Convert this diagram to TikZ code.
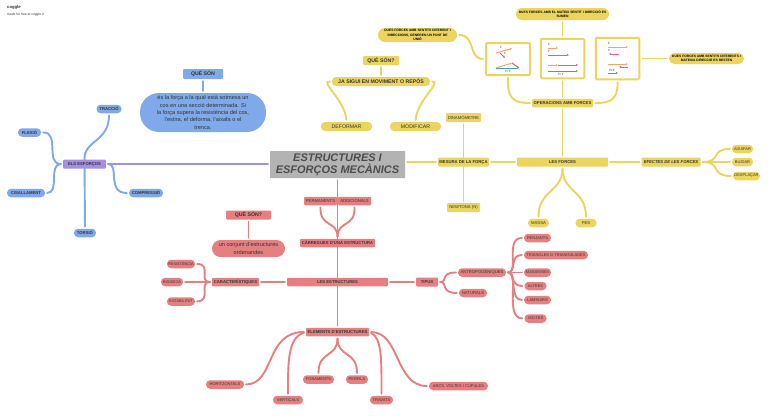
\documentclass[tikz,border=0pt]{standalone}
\usepackage{fontspec}
\setmainfont{Liberation Sans}
\usetikzlibrary{backgrounds,arrows.meta}
\definecolor{yy}{HTML}{EBD55F}
\definecolor{bb}{HTML}{7FA9E8}
\definecolor{rr}{HTML}{E68080}
\definecolor{pp}{HTML}{A78FE0}
\definecolor{gg}{HTML}{B3B3B3}
\definecolor{tx}{HTML}{333333}
\definecolor{orr}{HTML}{F0A868}
\definecolor{pnk}{HTML}{E4607C}
\definecolor{tea}{HTML}{4E9DAA}
\tikzset{
 x=1pt,y=-1pt,
 base/.style={inner sep=0pt,align=center,text=tx,font=\fontsize{4.2}{5}\selectfont\bfseries,minimum width=#1,minimum height=8.5},
 base/.default=30,
 rb/.style={base=#1,rounded corners=1pt},
 pill/.style={base=#1,rounded corners=4pt},
 yb/.style={rb=#1,fill=yy}, yp/.style={pill=#1,fill=yy},
 bbx/.style={rb=#1,fill=bb}, bp/.style={pill=#1,fill=bb},
 rbx/.style={rb=#1,fill=rr}, rp/.style={pill=#1,fill=rr},
 big/.style={font=\fontsize{5.2}{6}\selectfont\bfseries},
 med/.style={font=\fontsize{5.6}{7.4}\selectfont,text=tx},
 tiny/.style={font=\fontsize{3.3}{4.2}\selectfont\bfseries},
 card/.style={draw=yy,line width=2pt,fill=white,rounded corners=1pt,inner sep=0pt,minimum width=#1},
 lnk/.style={line width=1.9pt,line cap=round,shorten >=2pt,shorten <=2pt},
 yl/.style={lnk,draw=yy}, bl/.style={lnk,draw=bb}, rl/.style={lnk,draw=rr},
 ar/.style={line width=1pt,-{Latex[length=2pt,width=2pt]}},
 lab/.style={inner sep=0pt,font=\fontsize{3}{3.5}\selectfont,text=tx},
}
\begin{document}
\begin{tikzpicture}
\useasboundingbox (0,0) rectangle (768,415);
% logo
\node[inner sep=0pt,font=\fontsize{4.2}{5}\selectfont\bfseries,text=tx,anchor=west] (logo) at (7,7) {coggle};
\node[inner sep=0pt,font=\fontsize{3.3}{4}\selectfont,text=tx,anchor=west] (made) at (7,15) {made for free at coggle.it};
% title
\node[fill=gg,inner sep=0pt,minimum width=135,minimum height=27,rounded corners=0.5pt,align=center,text=black!70,font=\fontsize{11}{12}\selectfont\bfseries\itshape] (title) at (337.5,164.5) {ESTRUCTURES I\\ESFORÇOS MECÀNICS};
% blue
\node[bbx=40,big,minimum height=10] (qs) at (203,74) {QUÈ SÓN};
\node[fill=bb,rounded corners=19pt,minimum width=126,minimum height=39,inner sep=0pt,align=center,med] (blob) at (203,112.5) {és la força a la qual està sotmesa un\\cos en una secció determinada. Si\\la força supera la resistència del cos,\\l'estira, el deforma, l'aixafa o el\\trenca.};
\node[rb=43,fill=pp,minimum height=9] (els) at (84.5,164) {ELS ESFORÇOS};
\node[bp=25] (trac) at (109,109) {TRACCIÓ};
\node[bp=23] (flex) at (29.5,132.5) {FLEXIÓ};
\node[bp=38] (cis) at (26,193) {CISALLAMENT};
\node[bp=34] (comp) at (146,193) {COMPRESSIÓ};
\node[bp=22] (tors) at (85,233) {TORSIÓ};
% yellow
\node[yb=36,big,minimum height=9] (qy) at (381,60.5) {QUÈ SÓN?};
\node[yp=98,big,minimum height=9] (ja) at (381,81.5) {JA SIGUI EN MOVIMENT O REPÓS};
\node[yp=51,font=\fontsize{5.2}{6}\selectfont,minimum height=9] (def) at (346.5,126.5) {DEFORMAR};
\node[yp=51,font=\fontsize{5.2}{6}\selectfont,minimum height=9] (mod) at (415.5,126.5) {MODIFICAR};
\node[yb=35,font=\fontsize{4.2}{5}\selectfont,minimum height=9] (din) at (463.5,117.5) {DINAMÒMETRE};
\node[yb=51,minimum height=9] (mes) at (463.5,162) {MESURA DE LA FORÇA};
\node[yb=91,minimum height=9] (forc) at (562.5,162) {LES FORCES};
\node[yb=59,minimum height=9,font=\fontsize{4.2}{5}\selectfont\bfseries\itshape] (efe) at (671,162) {EFECTES DE LES FORCES};
\node[yp=21,font=\fontsize{4}{5}\selectfont] (e1) at (742.5,149) {AIXAFAR};
\node[yp=21,font=\fontsize{4}{5}\selectfont] (e2) at (742.5,162) {BUIDAR};
\node[yp=27,font=\fontsize{4}{5}\selectfont] (e3) at (746.5,176) {DESPLAÇAR};
\node[yb=33,font=\fontsize{4.2}{5}\selectfont,minimum height=9] (new) at (463.5,207.5) {NEWTONS (N)};
\node[yp=21,font=\fontsize{4.2}{5}\selectfont] (mas) at (538.5,223) {MASSA};
\node[yp=21,font=\fontsize{4.2}{5}\selectfont] (pes) at (586,223) {PES};
\node[yb=61] (ope) at (562.5,103) {OPERACIONS AMB FORCES};
\node[card=44,minimum height=32] (c1) at (508,59) {};
\node[card=43.5,minimum height=39.5] (c2) at (562.5,58.5) {};
\node[card=43.5,minimum height=41.5] (c3) at (617.5,58.5) {};
\node[fill=yy,rounded corners=6pt,minimum width=93,minimum height=12,inner sep=0pt,align=center,tiny] (ttop) at (562.5,14) {DUES FORCES AMB EL MATEIX SENTIT I DIRECCIÓ ES\\SUMEN};
\node[fill=yy,rounded corners=7pt,minimum width=79,minimum height=14,inner sep=0pt,align=center,tiny] (tleft) at (417.5,35) {DUES FORCES AMB SENTITS DIFERENT I\\DIRECCIONS, GENEREN UN PUNT DE\\UNIÓ};
\node[fill=yy,rounded corners=5.5pt,minimum width=75,minimum height=11,inner sep=0pt,align=center,tiny] (tright) at (706.5,58.5) {DUES FORCES AMB SENTITS DIFERENTS I\\MATEIXA DIRECCIÓ ES RESTEN};
% card 1
\node[lab] (l1) at (501,47) {F};
\node[lab] (l2) at (505,53) {F};
\node[lab] (l3) at (508,71) {F+F};
\coordinate (a1) at (496,53); \coordinate (a2) at (512,48.5); \coordinate (a3) at (500,53); \coordinate (a4) at (505,58);
\coordinate (a5) at (496,68); \coordinate (a6) at (519,68); \coordinate (a7) at (512,63);
\draw[ar,orr] (a1) -- (a2); \draw[ar,pnk] (a3) -- (a4);
\draw[ar,orr] (a5) -- (a7); \draw[ar,pnk] (a7) -- (a6); \draw[ar,tea] (a5) -- (a6);
% card 2
\node[lab] (l4) at (549,44.5) {F};
\node[lab] (l5) at (549,51.5) {F};
\node[lab] (l6) at (561,74) {F+F};
\coordinate (b1) at (548,48); \coordinate (b2) at (558,48); \coordinate (b3) at (548,55); \coordinate (b4) at (569,55);
\coordinate (b5) at (548,65); \coordinate (b6) at (558,65); \coordinate (b7) at (578,65); \coordinate (b8) at (548,71); \coordinate (b9) at (578,71);
\draw[ar,orr] (b1) -- (b2); \draw[ar,pnk] (b3) -- (b4);
\draw[ar,pnk] (b6) -- (b7); \draw[ar,orr] (b5) -- (b6); \draw[ar,tea] (b8) -- (b9);
% card 3
\node[lab] (l7) at (609,43) {F};
\node[lab] (l8) at (609,50.5) {F};
\node[lab] (l9) at (612,70) {F+F};
\coordinate (d1) at (608,47); \coordinate (d2) at (628,47); \coordinate (d3) at (619,54); \coordinate (d4) at (609,54);
\coordinate (d5) at (608,64); \coordinate (d6) at (628,64); \coordinate (d7) at (628,67); \coordinate (d8) at (619,67); \coordinate (d9) at (608,73); \coordinate (d10) at (618,73);
\draw[ar,orr] (d1) -- (d2); \draw[ar,pnk] (d3) -- (d4);
\draw[ar,orr] (d5) -- (d6); \draw[ar,pnk] (d7) -- (d8); \draw[ar,tea] (d9) -- (d10);
% red
\node[rbx=33,font=\fontsize{4.2}{5}\selectfont] (per) at (320.5,201) {PERMANENTS};
\node[rbx=33,font=\fontsize{4.2}{5}\selectfont] (add) at (354.5,201) {ADDICIONALS};
\node[rbx=75] (car) at (337.5,243) {CÀRREGUES D'UNA ESTRUCTURA};
\node[rbx=45,big,minimum height=9] (qr) at (248.5,215) {QUÈ SÓN?};
\node[fill=rr,rounded corners=8.5pt,minimum width=73,minimum height=17,inner sep=0pt,align=center,med] (rblob) at (248.5,248.5) {un conjunt d'estructures\\ordenandes};
\node[rp=28,font=\fontsize{3.8}{5}\selectfont] (res) at (181,264) {RESISTÈNCIA};
\node[rp=22,font=\fontsize{3.8}{5}\selectfont] (rig) at (172,282) {RIGIDESA};
\node[rp=28,font=\fontsize{3.8}{5}\selectfont] (est) at (181,301.5) {ESTABILITAT};
\node[rbx=47] (crt) at (235.5,282) {CARACTERÍSTIQUES};
\node[rbx=101] (lest) at (337.5,282) {LES ESTRUCTURES};
\node[rbx=22,minimum height=9] (tip) at (427,282) {TIPUS};
\node[rp=48,font=\fontsize{4.2}{5}\selectfont] (ant) at (482,272.5) {ANTROPOGÈNIQUES};
\node[rp=28,font=\fontsize{4.2}{5}\selectfont] (nat) at (473,293) {NATURALS};
\node[rp=27,font=\fontsize{4}{5}\selectfont] (t1) at (537.5,238) {PENJANTS};
\node[rp=64,font=\fontsize{4}{5}\selectfont] (t2) at (556,255) {TRIANGLES O TRIANGULADES};
\node[rp=27,font=\fontsize{4}{5}\selectfont] (t3) at (537.5,272.5) {MASSISSES};
\node[rp=22,font=\fontsize{4}{5}\selectfont] (t4) at (535.5,286) {ALTRES};
\node[rp=27,font=\fontsize{4}{5}\selectfont] (t5) at (537.5,300) {LAMINARS};
\node[rp=22,font=\fontsize{4}{5}\selectfont] (t6) at (535.5,318.5) {VOLTES};
\node[rbx=63] (ele) at (337.5,332) {ELEMENTS D'ESTRUCTURES};
\node[rp=38,font=\fontsize{4}{5}\selectfont] (hor) at (225,384.5) {HORITZONTALS};
\node[rp=30,font=\fontsize{4}{5}\selectfont] (ver) at (288,400) {VERTICALS};
\node[rp=31,font=\fontsize{4}{5}\selectfont] (fon) at (318.5,379.5) {FONAMENTS};
\node[rp=22,font=\fontsize{4}{5}\selectfont] (prf) at (357,379.5) {PERFILS};
\node[rp=23,font=\fontsize{4}{5}\selectfont] (tra) at (381.5,400) {TRAVATS};
\node[rp=59,font=\fontsize{4}{5}\selectfont] (arc) at (458.5,386) {ARCS, VOLTES I CÚPULES};
% connectors
\begin{scope}[on background layer]
\fill[white] (0,0) rectangle (768,415);
% blue
\draw[bl] (qs) -- (blob);
\draw[line width=2.8pt,pp,line cap=round,shorten >=2pt,shorten <=2pt] (els.east) -- (title.west |- els.east);
\draw[bl,shorten <=0pt] (els.north) .. controls (84,140) and (109,142) .. (trac.south);
\draw[bl] (flex.east) .. controls (60,132) and (45,164) .. (els.west);
\draw[bl] (cis.east) .. controls (60,193) and (48,164) .. (els.west);
\draw[bl] (els.east) .. controls (120,164) and (106,193) .. (comp.west);
\draw[bl,shorten <=0pt] (els.north) -- (tors.north);
% yellow
\draw[yl] (qy) -- (ja);
\draw[yl] (ja.west) .. controls (319,81) and (345,100) .. (def.north);
\draw[yl] (ja.east) .. controls (443,81) and (417,100) .. (mod.north);
\draw[yl] (title.east |- mes.west) -- (mes.west);
\draw[yl] (mes.east) -- (forc.west);
\draw[yl] (forc.east) -- (efe.west);
\draw[yl] (din.south) -- (new.north);
\draw[yl] (ope.south) -- (forc.north);
\draw[yl] (forc.south) .. controls (562.5,192) and (538.5,190) .. (mas.north);
\draw[yl] (forc.south) .. controls (562.5,192) and (586,190) .. (pes.north);
\draw[yl] (efe.east) .. controls (722,162) and (710,149) .. (e1.west);
\draw[yl] (efe.east) -- (e2.west);
\draw[yl] (efe.east) .. controls (722,162) and (710,176) .. (e3.west);
\draw[yl] (c1.south) .. controls (507,100) and (515,103) .. (ope.west);
\draw[yl] (c3.south) .. controls (618,100) and (610,103) .. (ope.east);
\draw[yl] (c2.south) -- (ope.north);
\draw[yl] (ttop.south) -- (c2.north);
\draw[yl] (c3.east) -- (tright.west);
\draw[yl] (tleft.east) .. controls (476,35) and (468,59) .. (c1.west);
% red
\draw[rl] (title.south) -- (ele.north);
\draw[rl] (per.south) .. controls (320,228) and (337,220) .. (car.north);
\draw[rl] (add.south) .. controls (355,228) and (338,220) .. (car.north);
\draw[rl] (qr) -- (rblob);
\draw[rl] (res.east) .. controls (212,264) and (198,282) .. (crt.west);
\draw[rl] (rig.east) -- (crt.west);
\draw[rl] (est.east) .. controls (212,301) and (198,282) .. (crt.west);
\draw[rl] (crt.east) -- (lest.west);
\draw[rl] (lest.east) -- (tip.west);
\draw[rl] (tip.east) .. controls (448,282) and (440,272.5) .. (ant.west);
\draw[rl] (tip.east) .. controls (448,282) and (440,293) .. (nat.west);
\draw[rl] (ant.east) .. controls (519,272) and (505,238) .. (t1.west);
\draw[rl] (ant.east) .. controls (517,272) and (509,255) .. (t2.west);
\draw[rl] (ant.east) -- (t3.west);
\draw[rl] (ant.east) .. controls (514,272) and (510,286) .. (t4.west);
\draw[rl] (ant.east) .. controls (517,272) and (509,300) .. (t5.west);
\draw[rl] (ant.east) .. controls (520,272) and (504,318) .. (t6.west);
\draw[rl] (ele.west) .. controls (265,332) and (275,384) .. (hor.east);
\draw[rl] (ele.west) .. controls (288,338) and (288,360) .. (ver.north);
\draw[rl] (ele.south) .. controls (337.5,358) and (318.5,350) .. (fon.north);
\draw[rl] (ele.south) .. controls (337.5,358) and (357,350) .. (prf.north);
\draw[rl] (ele.east) .. controls (382,338) and (381.5,360) .. (tra.north);
\draw[rl] (ele.east) .. controls (400,332) and (395,386) .. (arc.west);
\end{scope}
\end{tikzpicture}
\end{document}
